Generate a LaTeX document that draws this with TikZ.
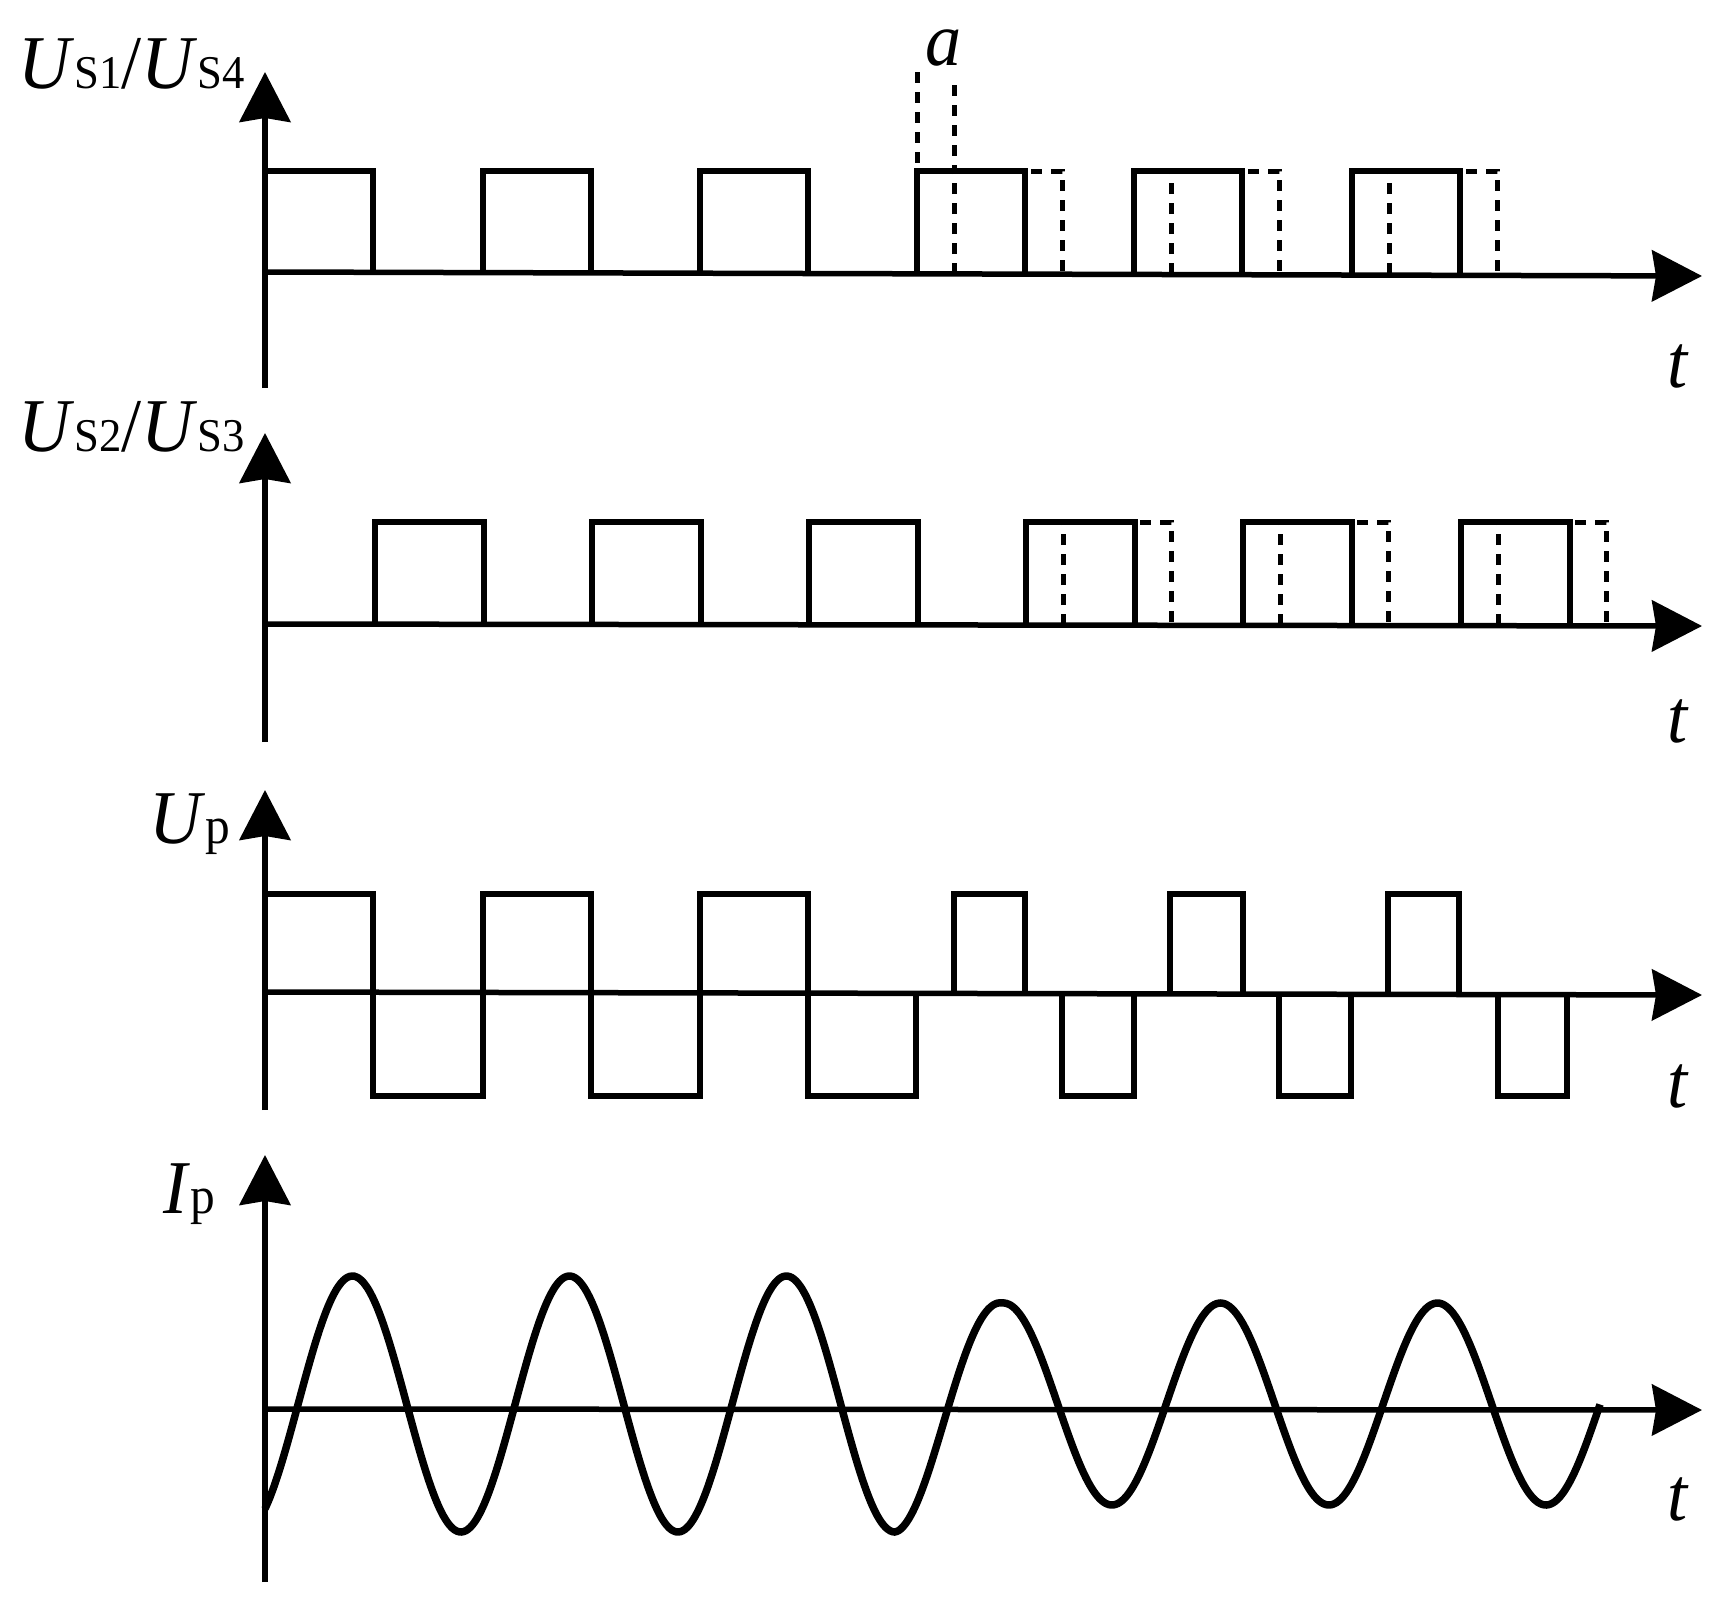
\documentclass[tikz,border=0pt]{standalone}
\usepackage{fontspec}
\setmainfont[FakeStretch=0.95]{Liberation Serif}
\usetikzlibrary{arrows.meta}

\newcommand{\bigsub}[1]{{\fontsize{47}{47}\selectfont #1}}
\newcommand{\subp}{{\fontsize{52}{52}\selectfont p}}

\begin{document}
\begin{tikzpicture}[ x = 1pt
                     , y = -1pt
                     , >={Stealth[width=51pt, length=50pt, inset=4pt]}
                     , axis/.style = { line width = 5.5pt }
                     , pulse/.style = { line width = 5.5pt }
                     , shifted/.style = { line width = 5pt, dash pattern = on 11pt off 9pt }
                     , wave/.style = { line width = 7.5pt, smooth }
                     , every node/.style = { inner sep = 0pt, anchor = base west
                                         , font = \fontsize{76}{76}\selectfont }
                     ]

  \useasboundingbox (0,0) rectangle (1732,1606);

  % first gate signal
  \coordinate (onebot) at (265,388);
  \coordinate (onetop) at (265,72);
  \coordinate (oneleft) at (265,272);
  \coordinate (oneright) at (1702,276);
  \node (onelabel) at (18,88) {\textit{U}\bigsub{S1}/\textit{U}\bigsub{S4}};
  \node (onea) at (925,65) {\textit{a}};
  \node (onet) at (1667,387) {\textit{t}};

  \foreach \s in {265,483,700,917,1134,1352}
    \draw[pulse] (\s,274) |- (\s+108,171) -- (\s+108,274);
  \foreach \s in {917,1134,1352}
    \draw[shifted] (\s+37,274) |- (\s+145,171) -- (\s+145,274);
  \draw[shifted] (917,72) -- (917,171);
  \draw[shifted] (954,85) -- (954,171);

  \draw[axis] (oneleft) edge[->] (oneright);
  \draw[axis, ->] (onebot) -- (onetop);

  % second gate signal
  \coordinate (twobot) at (265,742);
  \coordinate (twotop) at (265,433);
  \coordinate (twoleft) at (265,624);
  \coordinate (tworight) at (1702,626);
  \node (twolabel) at (18,451) {\textit{U}\bigsub{S2}/\textit{U}\bigsub{S3}};
  \node (twot) at (1667,742) {\textit{t}};

  \foreach \s in {375,592,809,1026,1243,1461}
    \draw[pulse] (\s,625) |- (\s+109,522) -- (\s+109,625);
  \foreach \s in {1026,1243,1461}
    \draw[shifted] (\s+37,625) |- (\s+145,522) -- (\s+145,625);

  \draw[axis] (twoleft) edge[->] (tworight);
  \draw[axis, ->] (twobot) -- (twotop);

  % primary voltage
  \coordinate (upbot) at (265,1110);
  \coordinate (uptop) at (265,790);
  \coordinate (upleft) at (265,992);
  \coordinate (upright) at (1702,995);
  \node (uplabel) at (149,843) {\textit{U}\subp};
  \node (upt) at (1667,1107) {\textit{t}};

  \foreach \a/\b in {265/373,483/591,700/808,954/1025,1170/1243,1388/1459}
    \draw[pulse] (\a,993) |- (\b,894) -- (\b,993);
  \foreach \a/\b in {373/483,591/700,808/916,1062/1134,1279/1351,1498/1567}
    \draw[pulse] (\a,993) |- (\b,1096) -- (\b,993);

  \draw[axis] (upleft) edge[->] (upright);
  \draw[axis, ->] (upbot) -- (uptop);

  % primary current
  \coordinate (ipbot) at (265,1582);
  \coordinate (iptop) at (265,1155);
  \coordinate (ipleft) at (265,1409);
  \coordinate (ipright) at (1702,1410);
  \node (iplabel) at (163,1213) {\textit{I}\subp};
  \node (ipt) at (1667,1520) {\textit{t}};

  \draw[wave] plot[domain=265:1600, samples=300]
    (\x, {1404 - (128 - 27*min(1,max(0,(\x-896)/107)))*cos((\x-352.4)/217*360)});

  \draw[axis] (ipleft) edge[->] (ipright);
  \draw[axis, ->] (ipbot) -- (iptop);

\end{tikzpicture}
\end{document}
